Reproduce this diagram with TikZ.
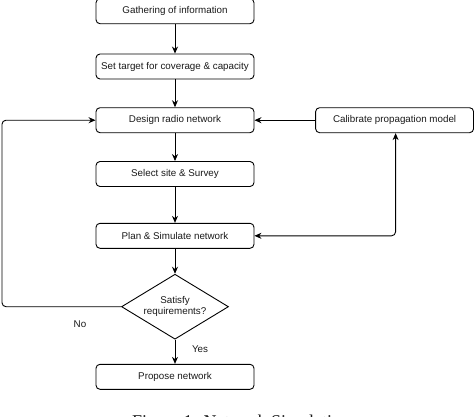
\documentclass[tikz,border=0pt]{standalone}
\usepackage{fontspec}
\setmainfont{Liberation Sans}
\newfontfamily\capfont{Liberation Serif}
\usetikzlibrary{shapes.geometric,arrows.meta}
\begin{document}
\begin{tikzpicture}[x=1pt,y=-1pt,
  every node/.style={font=\fontsize{9.8}{11}\selectfont, text=black!90},
  procbox/.style={draw, rounded corners=4pt, line width=0.9pt, minimum width=158pt, minimum height=25pt, inner sep=0pt},
  decbox/.style={draw, diamond, aspect=1.65, minimum width=107pt, minimum height=65pt, inner sep=0pt, line width=0.9pt, align=center},
  conn/.style={draw, line width=0.9pt, -{Stealth[length=7pt,width=6pt]}},
  lbl/.style={inner sep=0pt}]
\useasboundingbox (0,0) rectangle (474,416);
\node[procbox] (gather) at (175,11.2) {Gathering of information};
\node[procbox] (target) at (175,66.5) {Set target for coverage \& capacity};
\node[procbox] (design) at (175,120.2) {Design radio network};
\node[procbox] (calib) at (394.6,120.2) {Calibrate propagation model};
\node[procbox] (select) at (175,174) {Select site \& Survey};
\node[procbox] (plan) at (175,235.8) {Plan \& Simulate network};
\node[decbox] (dec) at (175,306.7) {Satisfy\\requirements?};
\node[procbox] (propose) at (175,376.8) {Propose network};
\coordinate (loopA) at (2,306.7);
\coordinate (loopB) at (2,120.2);
\coordinate (calc) at (395.6,235.8);
\draw[conn] (gather) -- (target);
\draw[conn] (target) -- (design);
\draw[conn] (design) -- (select);
\draw[conn] (select) -- (plan);
\draw[conn] (plan) -- (dec);
\draw[conn] (dec) -- (propose);
\draw[conn] (calib) -- (design);
\draw[conn, {Stealth[length=7pt,width=6pt]}-{Stealth[length=7pt,width=6pt]}, rounded corners=4pt] (plan.east) -- (calc) -- (calib.south -| calc);
\draw[conn, rounded corners=4pt] (dec.west) -- (loopA) -- (loopB) -- (design.west);
\node[lbl] (yes) at (200,349) {Yes};
\node[lbl] (no) at (80,324) {No};
\node[anchor=base west, inner sep=0pt, font=\capfont\fontsize{18}{20}\selectfont] (cap) at (132,427.5) {Figure 1: Network Simulation};
\end{tikzpicture}
\end{document}
